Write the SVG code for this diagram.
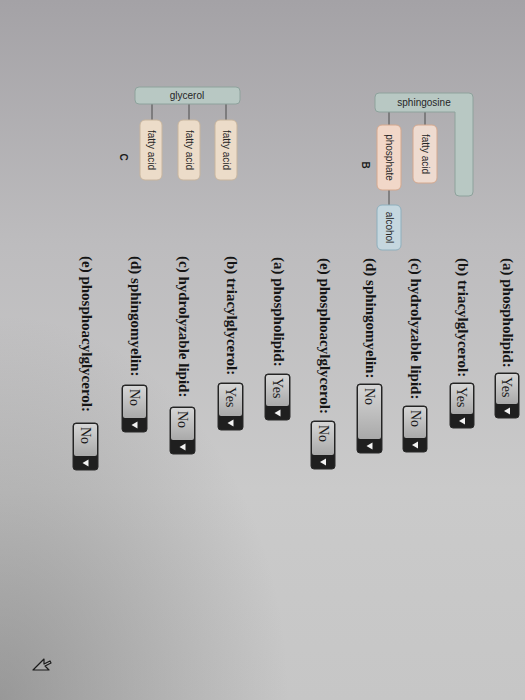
<svg xmlns="http://www.w3.org/2000/svg" width="525" height="700" viewBox="0 0 525 700">
  <defs>
    <linearGradient id="bg" x1="0" y1="0" x2="0" y2="1">
      <stop offset="0" stop-color="#a4a2a6"/>
      <stop offset="0.35" stop-color="#bdbcbe"/>
      <stop offset="0.7" stop-color="#cacaca"/>
      <stop offset="1" stop-color="#c6c6c6"/>
    </linearGradient>
    <radialGradient id="vig" cx="0" cy="1" r="0.55">
      <stop offset="0" stop-color="#606060" stop-opacity="0.45"/>
      <stop offset="1" stop-color="#606060" stop-opacity="0"/>
    </radialGradient>
    <linearGradient id="selg" x1="0" y1="0" x2="0" y2="1">
      <stop offset="0" stop-color="#d6d6d6"/>
      <stop offset="1" stop-color="#a9a9a9"/>
    </linearGradient>
    <style>
      .q { font-family: "Liberation Serif", "Times New Roman", serif; font-weight: bold; font-size: 15px; fill: #141414; }
      .opt { font-family: "Liberation Serif", "Times New Roman", serif; font-size: 14px; fill: #1a1a1a; }
      .sel { fill: #1f1f1f; stroke: #2a2a2a; stroke-width: 1; }
      .selin { fill: url(#selg); }
      .arr { fill: #f2f2f2; }
      .lbl { font-family: "Liberation Sans", Arial, sans-serif; font-size: 10px; fill: #262626; }
      .big { font-family: "Liberation Sans", Arial, sans-serif; font-size: 10px; font-weight: bold; fill: #1a1a1a; }
      .bb { fill: #b8c8c3; stroke: #8ea29c; stroke-width: 1; }
      .fa { fill: #ecdcc9; stroke: #c8b59e; stroke-width: 1; }
      .ph { fill: #f1d7c8; stroke: #d5a88e; stroke-width: 1; }
      .al { fill: #c5d7df; stroke: #8eafbd; stroke-width: 1; }
      .con { stroke: #4a4a4a; stroke-width: 1; fill: none; }
    </style>
  </defs>

  <rect x="0" y="0" width="525" height="700" fill="url(#bg)"/>
  <rect x="0" y="0" width="525" height="700" fill="url(#vig)"/>

  <!-- connectors -->
  <g id="connectors">
    <line class="con" x1="152" y1="104" x2="152" y2="120"/>
    <line class="con" x1="189" y1="104" x2="189" y2="120"/>
    <line class="con" x1="226" y1="104" x2="226" y2="120"/>
    <line class="con" x1="389" y1="112" x2="389" y2="125"/>
    <line class="con" x1="425" y1="112" x2="425" y2="125"/>
    <line class="con" x1="389" y1="190" x2="389" y2="205"/>
  </g>

  <!-- diagram C -->
  <g id="glycerol">
    <rect class="bb" x="135" y="87" width="105" height="17" rx="4"/>
    <text class="lbl" x="187" y="98.5" text-anchor="middle">glycerol</text>
  </g>
  <g id="fatty-acid-c1">
    <rect class="fa" x="140" y="120" width="22" height="60" rx="5"/>
    <text class="lbl" transform="translate(151,150) rotate(90)" text-anchor="middle" dy="3.5">fatty acid</text>
  </g>
  <g id="fatty-acid-c2">
    <rect class="fa" x="178" y="120" width="22" height="60" rx="5"/>
    <text class="lbl" transform="translate(189,150) rotate(90)" text-anchor="middle" dy="3.5">fatty acid</text>
  </g>
  <g id="fatty-acid-c3">
    <rect class="fa" x="215" y="120" width="22" height="60" rx="5"/>
    <text class="lbl" transform="translate(226,150) rotate(90)" text-anchor="middle" dy="3.5">fatty acid</text>
  </g>
  <g id="label-c">
    <text class="big" transform="translate(123,157) rotate(90)" text-anchor="middle" dy="3.5">C</text>
  </g>

  <!-- diagram B -->
  <g id="sphingosine">
    <path class="bb" d="M379,93 H469 Q473,93 473,97 V192 Q473,196 469,196 H459 Q455,196 455,192 V112 H379 Q375,112 375,108 V97 Q375,93 379,93 Z"/>
    <text class="lbl" x="424" y="105.5" text-anchor="middle">sphingosine</text>
  </g>
  <g id="phosphate">
    <rect class="ph" x="377" y="125" width="24" height="65" rx="5"/>
    <text class="lbl" transform="translate(389,157.5) rotate(90)" text-anchor="middle" dy="3.5">phosphate</text>
  </g>
  <g id="fatty-acid-b">
    <rect class="ph" x="413" y="125" width="24" height="58" rx="5" style="fill:#eedbd0"/>
    <text class="lbl" transform="translate(425,154) rotate(90)" text-anchor="middle" dy="3.5">fatty acid</text>
  </g>
  <g id="alcohol">
    <rect class="al" x="377" y="205" width="24" height="45" rx="5"/>
    <text class="lbl" transform="translate(389,227.5) rotate(90)" text-anchor="middle" dy="3.5">alcohol</text>
  </g>
  <g id="label-b">
    <text class="big" transform="translate(365,165) rotate(90)" text-anchor="middle" dy="3.5">B</text>
  </g>

  <!-- questions set B -->
  <g id="qb-a">
    <text class="q" transform="translate(502.5,258) rotate(90)">(a) phospholipid:</text>
    <rect class="sel" x="495" y="373" width="24" height="45" rx="3"/>
    <rect class="selin" x="496" y="374" width="22" height="30" rx="2"/>
    <text class="opt" transform="translate(502,377) rotate(90)">Yes</text>
    <polygon class="arr" points="504,411 510,407.5 510,414.5"/>
  </g>
  <g id="qb-b">
    <text class="q" transform="translate(457.5,258) rotate(90)">(b) triacylglycerol:</text>
    <rect class="sel" x="450" y="383" width="24" height="45" rx="3"/>
    <rect class="selin" x="451" y="384" width="22" height="30" rx="2"/>
    <text class="opt" transform="translate(457,387) rotate(90)">Yes</text>
    <polygon class="arr" points="459,421 465,417.5 465,424.5"/>
  </g>
  <g id="qb-c">
    <text class="q" transform="translate(411,258) rotate(90)">(c) hydrolyzable lipid:</text>
    <rect class="sel" x="403" y="406" width="24" height="46" rx="3"/>
    <rect class="selin" x="404" y="407" width="22" height="31" rx="2"/>
    <text class="opt" transform="translate(410.5,410) rotate(90)">No</text>
    <polygon class="arr" points="412,445 418,441.5 418,448.5"/>
  </g>
  <g id="qb-d">
    <text class="q" transform="translate(365.5,258) rotate(90)">(d) sphingomyelin:</text>
    <rect class="sel" x="357" y="384" width="25" height="69" rx="3"/>
    <rect class="selin" x="358" y="385" width="23" height="54" rx="2"/>
    <text class="opt" transform="translate(365,388) rotate(90)">No</text>
    <polygon class="arr" points="366.5,446 372.5,442.5 372.5,449.5"/>
  </g>
  <g id="qb-e">
    <text class="q" transform="translate(319.5,258) rotate(90)">(e) phosphoacylglycerol:</text>
    <rect class="sel" x="311" y="421" width="24" height="48" rx="3"/>
    <rect class="selin" x="312" y="422" width="22" height="33" rx="2"/>
    <text class="opt" transform="translate(318.5,425) rotate(90)">No</text>
    <polygon class="arr" points="320,462 326,458.5 326,465.5"/>
  </g>

  <!-- questions set C -->
  <g id="qc-a">
    <text class="q" transform="translate(273.5,257) rotate(90)">(a) phospholipid:</text>
    <rect class="sel" x="265" y="374" width="25" height="46" rx="3"/>
    <rect class="selin" x="266" y="375" width="23" height="31" rx="2"/>
    <text class="opt" transform="translate(272.5,378) rotate(90)">Yes</text>
    <polygon class="arr" points="274.5,413 280.5,409.5 280.5,416.5"/>
  </g>
  <g id="qc-b">
    <text class="q" transform="translate(226.5,256) rotate(90)">(b) triacylglycerol:</text>
    <rect class="sel" x="218" y="383" width="25" height="47" rx="3"/>
    <rect class="selin" x="219" y="384" width="23" height="32" rx="2"/>
    <text class="opt" transform="translate(225.5,387) rotate(90)">Yes</text>
    <polygon class="arr" points="227.5,423 233.5,419.5 233.5,426.5"/>
  </g>
  <g id="qc-c">
    <text class="q" transform="translate(178.5,256) rotate(90)">(c) hydrolyzable lipid:</text>
    <rect class="sel" x="170" y="407" width="25" height="47" rx="3"/>
    <rect class="selin" x="171" y="408" width="23" height="32" rx="2"/>
    <text class="opt" transform="translate(178,411) rotate(90)">No</text>
    <polygon class="arr" points="179.5,447 185.5,443.5 185.5,450.5"/>
  </g>
  <g id="qc-d">
    <text class="q" transform="translate(130.5,256) rotate(90)">(d) sphingomyelin:</text>
    <rect class="sel" x="122" y="385" width="25" height="47" rx="3"/>
    <rect class="selin" x="123" y="386" width="23" height="32" rx="2"/>
    <text class="opt" transform="translate(130,389) rotate(90)">No</text>
    <polygon class="arr" points="131.5,425 137.5,421.5 137.5,428.5"/>
  </g>
  <g id="qc-e">
    <text class="q" transform="translate(81.5,256) rotate(90)">(e) phosphoacylglycerol:</text>
    <rect class="sel" x="73" y="423" width="25" height="47" rx="3"/>
    <rect class="selin" x="74" y="424" width="23" height="32" rx="2"/>
    <text class="opt" transform="translate(81,427) rotate(90)">No</text>
    <polygon class="arr" points="82.5,463 88.5,459.5 88.5,466.5"/>
  </g>

  <!-- mouse pointer -->
  <polygon points="0,0 0,16 4,12 7,18 9,17 6,11 11,11" transform="translate(33,670) rotate(-90)" fill="#a8a8a8" stroke="#1a1a1a" stroke-width="1.2" stroke-linejoin="round"/>
</svg>
